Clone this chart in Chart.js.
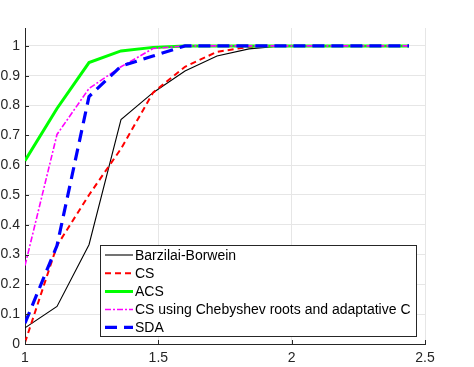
<!DOCTYPE html>
<html>
<head>
<meta charset="utf-8">
<script src="https://cdn.jsdelivr.net/npm/chart.js@4/dist/chart.umd.min.js"></script>
<style>
  html, body { margin: 0; padding: 0; background: #fff; }
  #wrap { width: 474px; height: 367px; }
</style>
</head>
<body>
<div id="wrap"><canvas id="c" width="474" height="367"></canvas></div>
<script>
const xValues = [1, 1.12, 1.24, 1.36, 1.48, 1.6, 1.72, 1.84, 1.96, 2.08, 2.2, 2.32, 2.44];
const bbValues   = [0.054, 0.126, 0.333, 0.753, 0.843, 0.916, 0.966, 0.99, 1, 1, 1, 1, 1];
const csValues   = [0.005, 0.33, 0.50, 0.655, 0.843, 0.93, 0.98, 0.997, 1, 1, 1, 1, 1];
const acsValues  = [0.615, 0.79, 0.944, 0.983, 0.995, 1, 1, 1, 1, 1, 1, 1, 1];
const chebValues = [0.263, 0.703, 0.857, 0.93, 0.991, 1, 1, 1, 1, 1, 1, 1, 1];
const sdaValues  = [0.07, 0.33, 0.83, 0.932, 0.966, 1, 1, 1, 1, 1, 1, 1, 1];
const seriesNames = ["Barzilai-Borwein", "CS", "ACS", "CS using Chebyshev roots and adaptative C", "SDA"];
const yTicks = [0, 0.1, 0.2, 0.3, 0.4, 0.5, 0.6, 0.7, 0.8, 0.9, 1];
const xTicks = [1, 1.5, 2, 2.5];

const toPts = vals => xValues.map((x, i) => ({x: x, y: vals[i]}));

const styles = [
  {color: '#000000', width: 1.1, dash: [], order: 5},
  {color: '#ff0000', width: 2, dash: [6, 4], order: 4},
  {color: '#00ff00', width: 3, dash: [], order: 3},
  {color: '#ff00ff', width: 1.6, dash: [6, 2, 2, 2], order: 2},
  {color: '#0000ff', width: 3.2, dash: [12, 7], order: 1}
];
const allVals = [bbValues, csValues, acsValues, chebValues, sdaValues];

const datasets = allVals.map((v, i) => ({
  label: seriesNames[i],
  data: toPts(v),
  borderColor: styles[i].color,
  backgroundColor: styles[i].color,
  borderWidth: styles[i].width,
  borderDash: styles[i].dash,
  pointRadius: 0,
  tension: 0,
  fill: false,
  order: styles[i].order
}));

const FONT = "'Liberation Sans', Arial, sans-serif";

const extras = {
  id: 'extras',
  afterDatasetsDraw(chart) {
    const ctx = chart.ctx;
    const xs = chart.scales.x, ys = chart.scales.y;
    const ca = chart.chartArea;
    ctx.save();
    ctx.strokeStyle = '#262626';
    ctx.lineWidth = 1;
    ctx.setLineDash([]);
    xTicks.forEach(v => {
      const px = Math.round(xs.getPixelForValue(v)) + 0.5;
      ctx.beginPath(); ctx.moveTo(px, ca.bottom); ctx.lineTo(px, ca.bottom - 4); ctx.stroke();
    });
    yTicks.forEach(v => {
      const py = Math.round(ys.getPixelForValue(v)) + 0.5;
      ctx.beginPath(); ctx.moveTo(ca.left, py); ctx.lineTo(ca.left + 4, py); ctx.stroke();
    });
    const L = 100.5, T = 245.5, R = 416.5, B = 336.5;
    ctx.fillStyle = '#ffffff';
    ctx.fillRect(L, T, R - L, B - T);
    ctx.strokeStyle = '#262626';
    ctx.lineWidth = 1;
    ctx.strokeRect(L, T, R - L, B - T);
    const rows = [255, 273.3, 291.5, 309.5, 327.3];
    ctx.font = '14px ' + FONT;
    ctx.textBaseline = 'middle';
    ctx.textAlign = 'left';
    datasets.forEach((ds, i) => {
      const y = rows[i];
      ctx.strokeStyle = ds.borderColor;
      ctx.lineWidth = ds.borderWidth;
      ctx.setLineDash(ds.borderDash);
      ctx.beginPath(); ctx.moveTo(105, y); ctx.lineTo(133, y); ctx.stroke();
      ctx.setLineDash([]);
      ctx.fillStyle = '#000000';
      ctx.fillText(ds.label, 135, y + 1);
    });
    ctx.restore();
  }
};

new Chart(document.getElementById('c'), {
  type: 'line',
  data: { datasets: datasets },
  options: {
    responsive: false,
    animation: false,
    layout: { padding: { top: 28, right: 49, left: 0, bottom: 0 } },
    plugins: { legend: { display: false }, tooltip: { enabled: false } },
    scales: {
      x: {
        type: 'linear',
        min: 1, max: 2.5,
        afterBuildTicks: s => { s.ticks = xTicks.map(v => ({value: v})); },
        afterFit: s => { s.height = 23; },
        grid: { color: '#e6e6e6', drawTicks: false, lineWidth: 1 },
        border: { display: true, color: '#262626', width: 1 },
        ticks: {
          color: '#262626', padding: 6,
          font: { family: FONT, size: 14 },
          maxRotation: 0,
          callback: v => String(v)
        }
      },
      y: {
        type: 'linear',
        min: 0, max: 1.06,
        afterBuildTicks: s => { s.ticks = yTicks.map(v => ({value: v})); },
        afterFit: s => { s.width = 25; },
        grid: { color: '#e6e6e6', drawTicks: false, lineWidth: 1 },
        border: { display: true, color: '#262626', width: 1 },
        ticks: {
          color: '#262626', padding: 5,
          font: { family: FONT, size: 14 },
          callback: v => String(Math.round(v * 10) / 10)
        }
      }
    }
  },
  plugins: [extras]
});
</script>
</body>
</html>
